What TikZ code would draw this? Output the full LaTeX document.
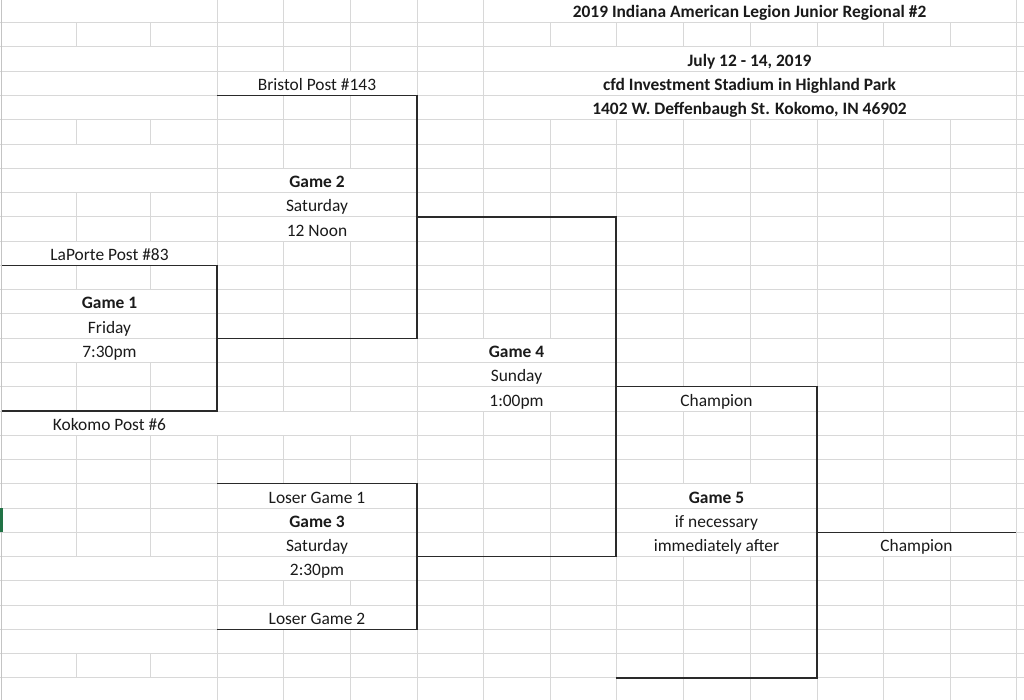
\documentclass[tikz,border=0pt]{standalone}
\usepackage{fontspec}
\setmainfont{Carlito}
\usepackage{tikz}

\definecolor{gridgray}{HTML}{D8D8D8}
\definecolor{edgegray}{HTML}{C4C4C4}
\definecolor{linegray}{HTML}{2A2A2A}
\definecolor{textgray}{HTML}{1A1A1A}
\definecolor{selgreen}{HTML}{217346}

% y of the line under spreadsheet row #1
\newcommand{\ry}[1]{-1.57+24.27*(#1)}

\tikzset{
  cell/.style={anchor=base, text=textgray, inner sep=0pt, font=\fontsize{17.4}{20}\selectfont},
  boldcell/.style={cell, font=\fontsize{17.4}{20}\selectfont\bfseries},
  gridline/.style={draw=gridgray, line width=1pt},
  bracket/.style={draw=linegray, line width=1.3pt},
}

\begin{document}
\begin{tikzpicture}[x=1pt, y=-1pt]
  \useasboundingbox (0,0) rectangle (1024,700);
  \clip (0,0) rectangle (1024,700);
  \fill[white] (0,0) rectangle (1024,700);

  % Grille du tableur
  \foreach \k in {1,...,28} { \draw[gridline] (0,{\ry{\k}}) -- (1024,{\ry{\k}}); }
  \foreach \x in {76,150} {
    \foreach \a/\b in {2/2, 6/6, 9/10, 12/12, 16/17, 19/23, 28/28} { \draw[gridline] (\x,{\ry{\a-1}}) -- (\x,{\ry{\b}}); }
  }
  \foreach \a/\b in {1/17, 19/29} { \draw[gridline] (217,{\ry{\a-1}}) -- (217,{\ry{\b}}); }
  \foreach \x in {283,350} {
    \foreach \a/\b in {1/3, 5/7, 11/17, 19/20, 25/25, 27/29} { \draw[gridline] (\x,{\ry{\a-1}}) -- (\x,{\ry{\b}}); }
  }
  \foreach \x/\a/\b in {417/1/29, 483/1/14, 483/18/29, 550/2/2, 550/6/14, 550/18/29,
                        616/2/2, 616/6/29, 817/2/2, 817/6/29, 1016/1/29} {
    \draw[gridline] (\x,{\ry{\a-1}}) -- (\x,{\ry{\b}});
  }
  \foreach \x in {683,750} {
    \foreach \a/\b in {2/2, 6/16, 18/20, 24/29} { \draw[gridline] (\x,{\ry{\a-1}}) -- (\x,{\ry{\b}}); }
  }
  \foreach \x in {883,950} {
    \foreach \a/\b in {2/2, 6/22, 24/29} { \draw[gridline] (\x,{\ry{\a-1}}) -- (\x,{\ry{\b}}); }
  }
  \draw[draw=edgegray, line width=1.6pt] (1.5,0) -- (1.5,700);
  \fill[selgreen] (0,{\ry{21}}) rectangle (2.5,{\ry{22}});

  % Titre
  \node[boldcell] (title) at (749.5,{\ry{1}-5}) {2019 Indiana American Legion Junior Regional \#2};
  \node[boldcell] (dates) at (749.5,{\ry{3}-5}) {July 12 - 14, 2019};
  \node[boldcell] (stadium) at (749.5,{\ry{4}-5}) {cfd Investment Stadium in Highland Park};
  \node[boldcell] (address) at (749.5,{\ry{5}-5}) {1402 W. Deffenbaugh St. Kokomo, IN 46902};

  % Equipes et matchs
  \node[cell] (bristol) at (317,{\ry{4}-5}) {Bristol Post \#143};
  \node[boldcell] (gametwo) at (317,{\ry{8}-5}) {Game 2};
  \node[cell] (gametwoday) at (317,{\ry{9}-5}) {Saturday};
  \node[cell] (gametwotime) at (317,{\ry{10}-5}) {12 Noon};
  \node[cell] (laporte) at (109.5,{\ry{11}-5}) {LaPorte Post \#83};
  \node[boldcell] (gameone) at (109.5,{\ry{13}-5}) {Game 1};
  \node[cell] (gameoneday) at (109.5,{\ry{14}-5}) {Friday};
  \node[cell] (gameonetime) at (109.5,{\ry{15}-5}) {7:30pm};
  \node[cell] (kokomo) at (109.5,{\ry{18}-5}) {Kokomo Post \#6};
  \node[boldcell] (gamefour) at (516.5,{\ry{15}-5}) {Game 4};
  \node[cell] (gamefourday) at (516.5,{\ry{16}-5}) {Sunday};
  \node[cell] (gamefourtime) at (516.5,{\ry{17}-5}) {1:00pm};
  \node[cell] (champone) at (716.5,{\ry{17}-5}) {Champion};
  \node[cell] (loserone) at (317,{\ry{21}-5}) {Loser Game 1};
  \node[boldcell] (gamethree) at (317,{\ry{22}-5}) {Game 3};
  \node[cell] (gamethreeday) at (317,{\ry{23}-5}) {Saturday};
  \node[cell] (gamethreetime) at (317,{\ry{24}-5}) {2:30pm};
  \node[cell] (losertwo) at (317,{\ry{26}-5}) {Loser Game 2};
  \node[boldcell] (gamefive) at (716.5,{\ry{21}-5}) {Game 5};
  \node[cell] (gamefiveif) at (716.5,{\ry{22}-5}) {if necessary};
  \node[cell] (gamefivewhen) at (716.5,{\ry{23}-5}) {immediately after};
  \node[cell] (champtwo) at (916.5,{\ry{23}-5}) {Champion};

  % Coins du tableau
  \coordinate (gone-a) at (2,{\ry{11}});   \coordinate (gone-b) at (217,{\ry{11}});
  \coordinate (gone-c) at (217,{\ry{17}}); \coordinate (gone-d) at (2,{\ry{17}});
  \coordinate (gone-o) at (217,{\ry{14}});
  \coordinate (gtwo-a) at (217,{\ry{4}});  \coordinate (gtwo-b) at (417,{\ry{4}});
  \coordinate (gtwo-c) at (417,{\ry{14}}); \coordinate (gtwo-o) at (417,{\ry{9}});
  \coordinate (gthree-a) at (217,{\ry{20}}); \coordinate (gthree-b) at (417,{\ry{20}});
  \coordinate (gthree-c) at (417,{\ry{26}}); \coordinate (gthree-d) at (217,{\ry{26}});
  \coordinate (gthree-o) at (417,{\ry{23}});
  \coordinate (gfour-a) at (616,{\ry{9}});  \coordinate (gfour-c) at (616,{\ry{23}});
  \coordinate (gfour-o) at (616,{\ry{16}});
  \coordinate (gfive-a) at (817,{\ry{16}}); \coordinate (gfive-c) at (817,{\ry{28}});
  \coordinate (gfive-d) at (616,{\ry{28}}); \coordinate (gfive-o) at (817,{\ry{22}});
  \coordinate (final) at (1016,{\ry{22}});

  \draw[bracket] (gone-a) -- (gone-b) -- (gone-c) -- (gone-d);
  \draw[bracket] (gtwo-a) -- (gtwo-b) -- (gtwo-c) -- (gone-o);
  \draw[bracket] (gthree-a) -- (gthree-b) -- (gthree-c) -- (gthree-d);
  \draw[bracket] (gtwo-o) -- (gfour-a) -- (gfour-c) -- (gthree-o);
  \draw[bracket] (gfour-o) -- (gfive-a) -- (gfive-c) -- (gfive-d);
  \draw[bracket] (gfive-o) -- (final);
\end{tikzpicture}
\end{document}
